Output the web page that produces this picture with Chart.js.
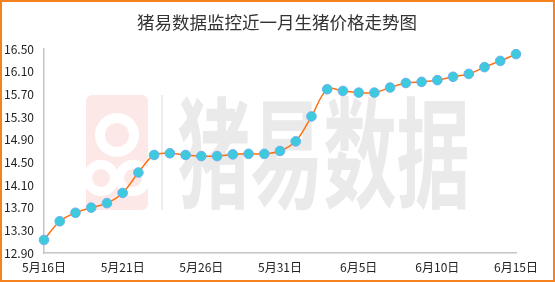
<!DOCTYPE html>
<html>
<head>
<meta charset="utf-8">
<script src="https://cdn.jsdelivr.net/npm/chart.js@4"></script>
<style>
  html, body { margin: 0; padding: 0; background: #fff; }
  canvas { display: block; }
</style>
</head>
<body>
<canvas id="priceChart" width="555" height="282"></canvas>
<script>
// dates from 5月16日 to 6月15日
const days = [
  '5月16日', '5月17日', '5月18日', '5月19日', '5月20日', '5月21日', '5月22日', '5月23日',
  '5月24日', '5月25日', '5月26日', '5月27日', '5月28日', '5月29日', '5月30日', '5月31日',
  '6月1日', '6月2日', '6月3日', '6月4日', '6月5日', '6月6日', '6月7日', '6月8日',
  '6月9日', '6月10日', '6月11日', '6月12日', '6月13日', '6月14日', '6月15日'
];
// price, yuan/kg
const prices = [
  13.13, 13.46, 13.61, 13.70, 13.78, 13.96, 14.32, 14.63,
  14.66, 14.63, 14.61, 14.61, 14.64, 14.65, 14.65, 14.70,
  14.87, 15.31, 15.79, 15.76, 15.73, 15.73, 15.82, 15.90,
  15.92, 15.95, 16.01, 16.06, 16.18, 16.29, 16.41
];
const yTicks = [12.90, 13.30, 13.70, 14.10, 14.50, 14.90, 15.30, 15.70, 16.10, 16.50];
const chartTitle = '猪易数据监控近一月生猪价格走势图';

const fontFamily = '"Noto Sans CJK SC", "Noto Sans", sans-serif';

// watermark, title and frame
const decor = {
  id: 'decor',
  beforeDraw(chart) {
    const ctx = chart.ctx;
    ctx.save();
    ctx.fillStyle = '#fff';
    ctx.fillRect(0, 0, chart.width, chart.height);

    // logo block
    ctx.fillStyle = '#fde8e8';
    ctx.beginPath();
    ctx.roundRect(86, 95, 62, 115, 6);
    ctx.fill();
    ctx.fillStyle = '#fff';
    ctx.beginPath(); ctx.arc(117, 135, 22, 0, Math.PI * 2); ctx.fill();
    ctx.beginPath(); ctx.arc(101, 178, 18, 0, Math.PI * 2); ctx.fill();
    ctx.beginPath(); ctx.arc(133, 178, 18, 0, Math.PI * 2); ctx.fill();
    ctx.fillStyle = '#fde8e8';
    ctx.beginPath(); ctx.arc(117, 135, 12, 0, Math.PI * 2); ctx.fill();
    ctx.beginPath(); ctx.arc(101, 178, 9, 0, Math.PI * 2); ctx.fill();
    ctx.beginPath(); ctx.arc(133, 178, 9, 0, Math.PI * 2); ctx.fill();
    ctx.fillStyle = '#ededed';
    ctx.fillRect(161, 95, 2, 115);

    // big text
    ctx.fillStyle = '#eaeaea';
    ctx.textBaseline = 'middle';
    ctx.font = 'bold 120px ' + fontFamily;
    ctx.translate(177, 153);
    ctx.scale(0.61, 1);
    ctx.fillText('猪易数据', 0, 0);
    ctx.restore();
  },
  afterDraw(chart) {
    const ctx = chart.ctx;
    ctx.save();
    ctx.fillStyle = '#333';
    ctx.font = '17.5px ' + fontFamily;
    ctx.textAlign = 'center';
    ctx.textBaseline = 'middle';
    ctx.fillText(chartTitle, 277, 22);
    ctx.strokeStyle = '#f5811f';
    ctx.lineWidth = 2;
    ctx.strokeRect(1, 1, chart.width - 2, chart.height - 2);
    ctx.restore();
  }
};

new Chart(document.getElementById('priceChart'), {
  type: 'line',
  data: {
    labels: days,
    datasets: [{
      data: prices,
      borderColor: '#ff7010',
      borderWidth: 1.5,
      tension: 0.35,
      pointRadius: 4.8,
      pointBackgroundColor: '#3ccadc',
      pointBorderColor: '#6ab0f0',
      pointBorderWidth: 1
    }]
  },
  options: {
    responsive: false,
    animation: false,
    layout: { padding: { top: 49, right: 39, bottom: 0, left: 0 } },
    plugins: {
      legend: { display: false },
      tooltip: { enabled: false }
    },
    scales: {
      x: {
        offset: false,
        afterFit(scale) { scale.height = 29; },
        grid: { display: false, drawTicks: false },
        border: { color: '#c4c4c4', width: 1.5 },
        ticks: {
          autoSkip: false,
          maxRotation: 0,
          padding: 7,
          color: '#222',
          font: { family: fontFamily, size: 12 },
          callback: (v, i) => (i % 5 === 0 ? days[i] : '')
        }
      },
      y: {
        min: yTicks[0],
        max: yTicks[yTicks.length - 1],
        afterFit(scale) { scale.width = 44; },
        afterBuildTicks(scale) { scale.ticks = yTicks.map(v => ({ value: v })); },
        grid: { display: false, drawTicks: false },
        border: { color: '#c4c4c4', width: 1.5 },
        ticks: {
          padding: 10,
          color: '#222',
          font: { family: fontFamily, size: 12 },
          callback: v => v.toFixed(2)
        }
      }
    }
  },
  plugins: [decor]
});
</script>
</body>
</html>
